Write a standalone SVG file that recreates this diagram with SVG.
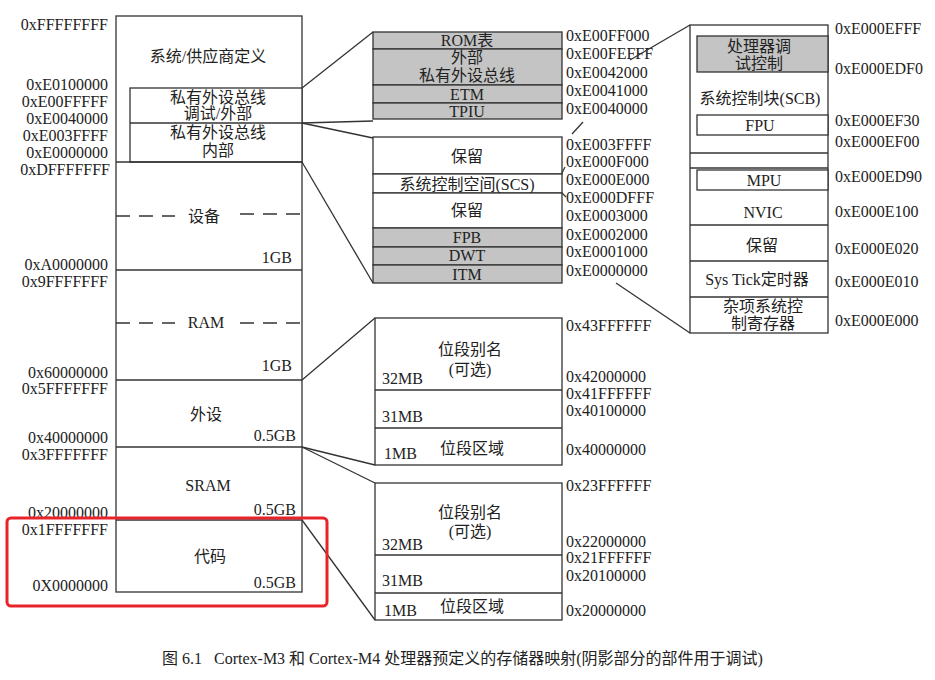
<svg xmlns="http://www.w3.org/2000/svg" width="935" height="680" viewBox="0 0 935 680">
<style>
text{font-family:"Liberation Serif","Noto Sans CJK SC",serif;font-size:16px;fill:#222}
.m{text-anchor:middle}.e{text-anchor:end}
.b{fill:#fff;stroke:#333;stroke-width:1.3}
.g{fill:#c4c4c4;stroke:#333;stroke-width:1.3}
.l{stroke:#333;stroke-width:1.3;fill:none}
.d{stroke:#333;stroke-width:1.3;stroke-dasharray:14,9}
</style>
<rect width="935" height="680" fill="#fff"/>
<g id="main">
<rect class="b" x="116" y="16" width="186" height="576"/>
<rect class="b" x="130" y="88" width="172" height="74"/>
<line class="l" x1="130" y1="123" x2="302" y2="123"/>
<line class="l" x1="116" y1="162" x2="302" y2="162"/>
<line class="l" x1="116" y1="270" x2="302" y2="270"/>
<line class="l" x1="116" y1="380" x2="302" y2="380"/>
<line class="l" x1="116" y1="447" x2="302" y2="447"/>
<line class="l" x1="116" y1="520" x2="302" y2="520"/>
<line class="d" x1="116" y1="216" x2="175" y2="216"/><line class="d" x1="240" y1="214" x2="302" y2="214"/>
<line class="d" x1="116" y1="323" x2="175" y2="323"/><line class="d" x1="240" y1="323" x2="302" y2="323"/>
<text class="m" x="208" y="62">系统/供应商定义</text>
<text class="m" x="218" y="103">私有外设总线</text><text class="m" x="218" y="119">调试/外部</text>
<text class="m" x="218" y="138">私有外设总线</text><text class="m" x="218" y="156">内部</text>
<text class="m" x="204" y="222">设备</text><text class="e" x="292" y="263">1GB</text>
<text class="m" x="206" y="328">RAM</text><text class="e" x="292" y="371">1GB</text>
<text class="m" x="206" y="420">外设</text><text class="e" x="296" y="441">0.5GB</text>
<text class="m" x="208" y="491">SRAM</text><text class="e" x="296" y="515">0.5GB</text>
<text class="m" x="210" y="562">代码</text><text class="e" x="296" y="588">0.5GB</text>
<g>
<text class="e" x="108" y="30">0xFFFFFFFF</text>
<text class="e" x="108" y="90">0xE0100000</text>
<text class="e" x="108" y="107">0xE00FFFFF</text>
<text class="e" x="108" y="124">0xE0040000</text>
<text class="e" x="108" y="141">0xE003FFFF</text>
<text class="e" x="108" y="158">0xE0000000</text>
<text class="e" x="110" y="175">0xDFFFFFFF</text>
<text class="e" x="108" y="270">0xA0000000</text>
<text class="e" x="108" y="287">0x9FFFFFFF</text>
<text class="e" x="108" y="378">0x60000000</text>
<text class="e" x="108" y="394">0x5FFFFFFF</text>
<text class="e" x="108" y="443">0x40000000</text>
<text class="e" x="108" y="460">0x3FFFFFFF</text>
<text class="e" x="108" y="518">0x20000000</text>
<text class="e" x="108" y="535">0x1FFFFFFF</text>
<text class="e" x="108" y="591">0X0000000</text>
</g>
</g>
<g id="ppb-ext">
<rect class="g" x="373" y="32" width="189" height="17"/>
<rect class="g" x="373" y="49" width="189" height="36"/>
<rect class="g" x="373" y="85" width="189" height="18"/>
<rect class="g" x="373" y="103" width="189" height="16"/>
<text class="m" x="467" y="46">ROM表</text>
<text class="m" x="467" y="63">外部</text><text class="m" x="467" y="81">私有外设总线</text>
<text class="m" x="467" y="100">ETM</text><text class="m" x="467" y="117">TPIU</text>
</g>
<g id="ppb-int">
<rect class="b" x="373" y="137" width="189" height="37"/>
<rect class="b" x="373" y="174" width="189" height="19"/>
<rect class="b" x="373" y="193" width="189" height="35"/>
<rect class="g" x="373" y="228" width="189" height="19"/>
<rect class="g" x="373" y="247" width="189" height="18"/>
<rect class="g" x="373" y="265" width="189" height="18"/>
<text class="m" x="467" y="162">保留</text>
<text class="m" x="467" y="190">系统控制空间(SCS)</text>
<text class="m" x="467" y="216">保留</text>
<text class="m" x="467" y="243">FPB</text><text class="m" x="467" y="261">DWT</text><text class="m" x="467" y="280">ITM</text>
</g>
<g id="scs">
<rect class="b" x="690" y="25" width="138" height="308"/>
<rect class="g" x="697" y="36" width="131" height="36"/>
<text class="m" x="759" y="52">处理器调</text><text class="m" x="759" y="69">试控制</text>
<text class="m" x="760" y="104">系统控制块(SCB)</text>
<rect class="b" x="697" y="115" width="131" height="20"/><text class="m" x="760" y="131">FPU</text>
<line class="l" x1="690" y1="153" x2="828" y2="153"/>
<line class="l" x1="690" y1="168" x2="828" y2="168"/>
<rect class="b" x="697" y="170" width="131" height="20"/><text class="m" x="764" y="186">MPU</text>
<line class="l" x1="690" y1="225" x2="828" y2="225"/>
<line class="l" x1="690" y1="261" x2="828" y2="261"/>
<line class="l" x1="690" y1="297" x2="828" y2="297"/>
<text class="m" x="763" y="218">NVIC</text>
<text class="m" x="762" y="251">保留</text>
<text class="m" x="757" y="285">Sys Tick定时器</text>
<text class="m" x="763" y="312">杂项系统控</text><text class="m" x="763" y="329">制寄存器</text>
</g>
<g id="bitband-periph">
<rect class="b" x="375" y="318" width="187" height="147"/>
<line class="l" x1="375" y1="390" x2="562" y2="390"/>
<line class="l" x1="375" y1="428" x2="562" y2="428"/>
<text class="m" x="470" y="355">位段别名</text><text class="m" x="470" y="375">(可选)</text>
<text x="382" y="384">32MB</text><text x="382" y="422">31MB</text>
<text x="384" y="459">1MB</text><text class="m" x="472" y="454">位段区域</text>
</g>
<g id="bitband-sram">
<rect class="b" x="375" y="483" width="187" height="137"/>
<line class="l" x1="375" y1="555" x2="562" y2="555"/>
<line class="l" x1="375" y1="593" x2="562" y2="593"/>
<text class="m" x="470" y="518">位段别名</text><text class="m" x="470" y="537">(可选)</text>
<text x="382" y="550">32MB</text><text x="382" y="586">31MB</text>
<text x="384" y="616">1MB</text><text class="m" x="472" y="612">位段区域</text>
</g>
<g id="addr-right">
<text x="566" y="41">0xE00FF000</text><text x="566" y="59">0xE00FEFFF</text>
<text x="566" y="78">0xE0042000</text><text x="566" y="96">0xE0041000</text>
<text x="566" y="114">0xE0040000</text><text x="566" y="150">0xE003FFFF</text>
<text x="566" y="167">0xE000F000</text><text x="566" y="185">0xE000E000</text>
<text x="566" y="203">0xE000DFFF</text><text x="566" y="221">0xE0003000</text>
<text x="566" y="240">0xE0002000</text><text x="566" y="257">0xE0001000</text>
<text x="566" y="276">0xE0000000</text>
<text x="566" y="331">0x43FFFFFF</text><text x="566" y="382">0x42000000</text>
<text x="566" y="399">0x41FFFFFF</text><text x="566" y="416">0x40100000</text>
<text x="566" y="455">0x40000000</text><text x="566" y="491">0x23FFFFFF</text>
<text x="566" y="547">0x22000000</text><text x="566" y="563">0x21FFFFFF</text>
<text x="566" y="581">0x20100000</text><text x="566" y="616">0x20000000</text>
<text x="835" y="34">0xE000EFFF</text><text x="835" y="74">0xE000EDF0</text>
<text x="835" y="126">0xE000EF30</text><text x="835" y="147">0xE000EF00</text>
<text x="835" y="182">0xE000ED90</text><text x="835" y="217">0xE000E100</text>
<text x="835" y="254">0xE000E020</text><text x="835" y="287">0xE000E010</text>
<text x="835" y="326">0xE000E000</text>
</g>
<g id="connectors">
<line class="l" x1="302" y1="88" x2="373" y2="32"/>
<line class="l" x1="302" y1="123" x2="373" y2="121"/>
<line class="l" x1="302" y1="123" x2="373" y2="138"/>
<line class="l" x1="302" y1="162" x2="373" y2="283"/>
<line class="l" x1="630" y1="60" x2="690" y2="25"/>
<line class="l" x1="583" y1="122" x2="572" y2="134"/>
<line class="l" x1="565" y1="167" x2="562" y2="173"/>
<line class="l" x1="562" y1="193" x2="566" y2="197"/>
<line class="l" x1="616" y1="283" x2="690" y2="333"/>
<line class="l" x1="302" y1="380" x2="375" y2="318"/>
<line class="l" x1="302" y1="447" x2="375" y2="465"/>
<line class="l" x1="302" y1="447" x2="375" y2="483"/>
<line class="l" x1="302" y1="520" x2="375" y2="620"/>
</g>
<rect x="7" y="518" width="320" height="88" rx="4" fill="none" stroke="#e8242a" stroke-width="3"/>
<text x="162" y="664" xml:space="preserve">图 6.1   Cortex-M3 和 Cortex-M4 处理器预定义的存储器映射(阴影部分的部件用于调试)</text>
</svg>
